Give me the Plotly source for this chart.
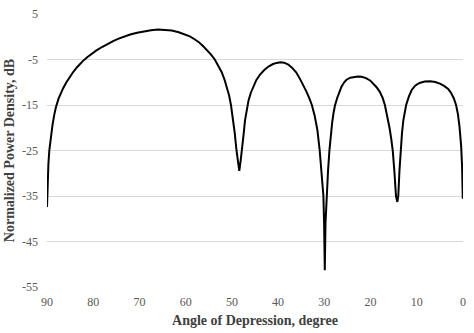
import plotly.graph_objects as go

angle = [90, 89.95, 89.85, 89.7, 89.5, 89.3, 89.05, 88.8, 88.4, 88.1, 87.5, 87.0, 86.5, 85.8, 85.0, 84.3, 83.5, 82.8, 82.2, 81.3, 80.3,
         79.3, 78.0, 76.8, 75.7, 74.5, 73.2, 72.0, 70.5, 69.0, 67.5, 66.0, 64.5, 63.0, 61.5, 60.3, 59.1, 58.0, 57.0, 56.2, 55.5,
         54.6, 53.7, 53.0, 52.2, 51.6, 51.0, 50.6, 50.2, 49.8, 49.4, 49.0, 48.7, 48.4,
         48.1, 47.8, 47.5, 47.15, 46.8, 46.4, 45.9, 45.4, 44.7, 43.9, 43.0, 42.0, 41.1, 40.3, 39.5, 38.7, 37.8, 37.0, 36.1, 35.3,
         34.6, 33.9, 33.3, 32.7, 32.1, 31.5, 31.0, 30.6, 30.2, 30.05, 29.9,
         29.75, 29.5, 29.2, 28.9, 28.6, 28.3, 28.0, 27.7, 27.2, 26.7, 26.3, 25.7, 25.2, 24.4, 23.5, 22.7, 21.9, 21.0, 20.1, 19.4,
         18.7, 18.0, 17.4, 16.9, 16.4, 15.9, 15.5, 15.2, 14.85, 14.5, 14.2,
         14.0, 13.75, 13.5, 13.2, 12.9, 12.6, 12.3, 11.7, 11.1, 10.3, 9.4, 8.3, 7.1, 6.0, 5.0, 4.1, 3.2, 2.6, 2.0, 1.5,
         1.1, 0.75, 0.4, 0.2, 0.05]
power_db = [-37.4, -35.5, -32, -28, -25, -23.0, -20.9, -19.3, -17.0, -15.6, -13.6, -12.3, -11.3, -10.0, -8.7, -7.7, -6.7, -5.9, -5.3, -4.5, -3.7,
            -3.0, -2.2, -1.5, -0.95, -0.4, 0.1, 0.5, 0.9, 1.2, 1.45, 1.6, 1.55, 1.35, 1.0, 0.6, 0.1, -0.6, -1.3, -2.1, -2.8,
            -3.8, -5.0, -6.2, -7.8, -9.4, -11.3, -12.9, -15, -17.6, -21, -25, -27.5, -29.5,
            -27.2, -25, -21.8, -18.3, -15.9, -14.0, -12.3, -11.0, -9.5, -8.3, -7.3, -6.5, -6.0, -5.75, -5.6, -5.7, -6.1, -6.8, -7.8, -9.2,
            -10.5, -12.0, -13.4, -15, -17.3, -20.5, -25, -29.5, -35, -41, -51.3,
            -41, -35, -29.5, -25, -21.5, -18.8, -16.7, -15.1, -13.4, -12.0, -11.0, -10.0, -9.45, -9.0, -8.8, -8.75, -8.8, -9.1, -9.6, -10.3,
            -11.1, -12.1, -13.4, -15, -17.3, -20, -22.6, -25, -29.5, -35, -36.3,
            -35, -29.5, -25, -21.2, -18.3, -16.4, -15, -13.1, -11.7, -10.7, -10.15, -9.85, -9.8, -9.95, -10.3, -10.8, -11.5, -12.3, -13.5, -15,
            -17.0, -19.8, -24, -28.5, -35.6]

x_ticks = [90, 80, 70, 60, 50, 40, 30, 20, 10, 0]
y_ticks = [5, -5, -15, -25, -35, -45, -55]

fig = go.Figure()
fig.add_trace(go.Scatter(x=angle, y=power_db, mode="lines",
                         line=dict(color="black", width=2),
                         showlegend=False))

tickfont = dict(family="Liberation Serif", size=12, color="#595959")
titlefont = dict(family="Liberation Serif", size=14, color="#404040")

fig.update_layout(
    width=474, height=333,
    margin=dict(l=47, r=11, t=7, b=46),
    plot_bgcolor="white", paper_bgcolor="white",
    xaxis=dict(range=[90, 0], tickvals=x_ticks, ticktext=[str(v) for v in x_ticks],
               showgrid=False, zeroline=False, showline=False, ticks="",
               tickfont=tickfont, ticklabelstandoff=6,
               title=dict(text="<b>Angle of Depression, degree</b>", font=titlefont, standoff=7)),
    yaxis=dict(range=[-55, 5], tickvals=y_ticks, ticktext=[str(v) for v in y_ticks],
               showgrid=True, gridcolor="#d9d9d9", gridwidth=1, zeroline=False, showline=False,
               ticks="", tickfont=tickfont, ticklabelstandoff=8,
               title=dict(text="<b>Normalized Power Density, dB</b>", font=titlefont, standoff=4)),
)

fig.write_html("out.html")
